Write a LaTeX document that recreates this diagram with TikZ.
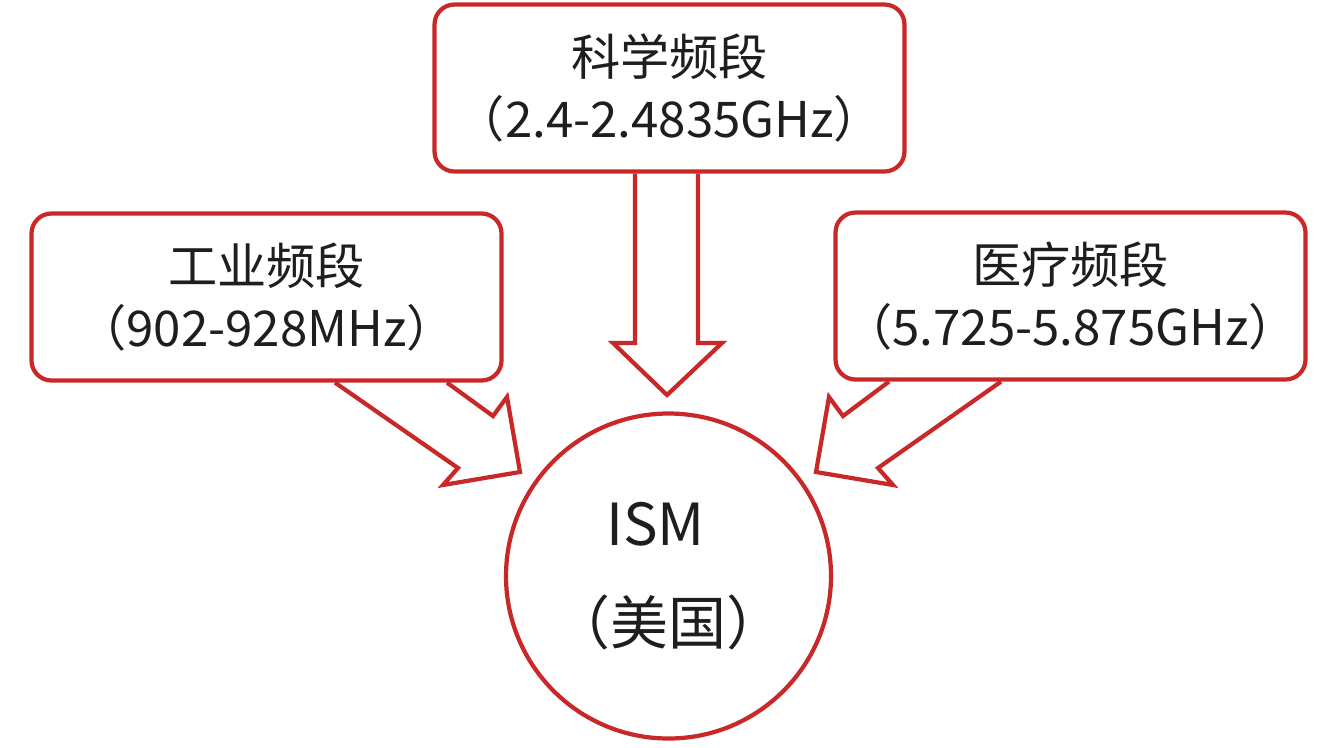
\documentclass[tikz,border=0pt]{standalone}
\usepackage{fontspec}
\setmainfont{Noto Sans CJK SC}
\usetikzlibrary{calc}
\definecolor{bandred}{RGB}{200,40,40}
\definecolor{bandtext}{RGB}{30,30,30}

\begin{document}
\begin{tikzpicture}[
	bandbox/.style={draw=bandred, line width=1.2pt, rounded corners=0.2cm, fill=white,
		minimum width=4.7cm, minimum height=1.67cm, inner sep=0pt, align=center,
		text=bandtext, font=\fontsize{14}{17.4}\selectfont},
	ismcircle/.style={draw=bandred, line width=1.2pt, circle, minimum size=3.25cm,
		inner sep=0pt, align=center, text=bandtext, font=\fontsize{16.5}{28}\selectfont},
	bigarrow/.style={draw=bandred, line width=1.2pt, line join=miter}]
				%%%%% START %%%%%
				\useasboundingbox (0,0) rectangle (13.4,-7.47);

				\node[bandbox] (sci) at (6.695,-0.88) {科学频段\\（2.4-2.4835GHz）};
				\node[bandbox] (ind) at (2.665,-2.97) {工业频段\\（902-928MHz）};
				\node[bandbox] (med) at (10.705,-2.96) {医疗频段\\（5.725-5.875GHz）};
				\node[ismcircle] (ism) at (6.685,-5.76) {ISM\hspace*{2.6mm}\\（美国）};

				\draw[bigarrow] (6.35,0 |- sci.south) -- (6.35,-3.43) -- (6.13,-3.43) -- (6.67,-3.95)
					-- (7.22,-3.43) -- (6.98,-3.43) -- (6.98,0 |- sci.south);
				\draw[bigarrow] (3.35,0 |- ind.south) -- (4.58,-4.68) -- (4.43,-4.85) -- (5.20,-4.72)
					-- (5.07,-3.97) -- (4.93,-4.16) -- (4.47,0 |- ind.south);
				\draw[bigarrow] (10.01,0 |- med.south) -- (8.78,-4.68) -- (8.93,-4.85) -- (8.16,-4.72)
					-- (8.29,-3.97) -- (8.43,-4.16) -- (8.89,0 |- med.south);
				%%%%% START %%%%%
			\end{tikzpicture}
\end{document}
